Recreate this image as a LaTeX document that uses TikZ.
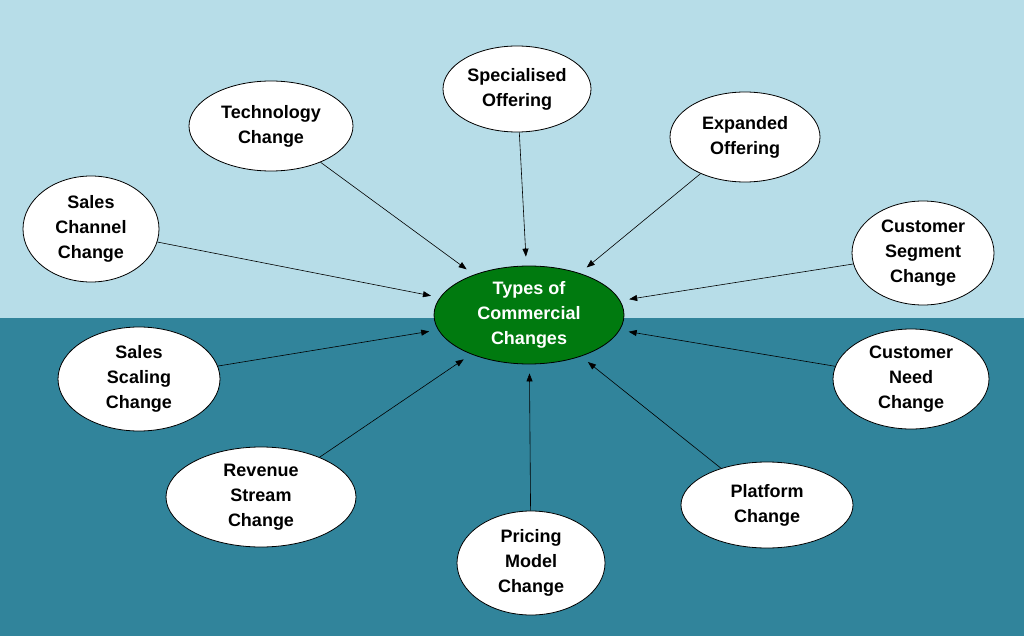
\documentclass[tikz,border=0pt]{standalone}
\usepackage{fontspec}
\setmainfont{Liberation Sans}
\usetikzlibrary{shapes.geometric,arrows.meta}

\definecolor{skyblue}{HTML}{B7DDE8}
\definecolor{seablue}{HTML}{31849B}
\definecolor{hubgreen}{HTML}{007A0F}

\tikzset{
	change/.style={ellipse,draw=black,thick,fill=white,inner sep=0pt,align=center,
		font=\bfseries\fontsize{18}{25}\selectfont},
	hub/.style={change,fill=hubgreen,text=white},
	link/.style={-{Triangle[length=8pt,width=6pt]},semithick,shorten >=9pt}
}

\begin{document}
\begin{tikzpicture}[x=1pt,y=-1pt]
	
	\fill [skyblue] (0,0) rectangle (1024,318);
	\fill [seablue] (0,318) rectangle (1024,636);
	\useasboundingbox (0,0) rectangle (1024,636);
	
	%%%%%%%%%%%%%%%%%%%%%%%%%%%%%%%%%%%%%%%%%%%%%%%%%%%%%%
	
	\node [hub,minimum width=190pt,minimum height=98pt] (types) at (529,315) {Types of\\Commercial\\Changes};
	
	\node [change,minimum width=148pt,minimum height=86pt] (specialised) at (517,89) {Specialised\\Offering};
	\node [change,minimum width=164pt,minimum height=90pt] (technology) at (271,126) {Technology\\Change};
	\node [change,minimum width=150pt,minimum height=90pt] (expanded) at (745,137) {Expanded\\Offering};
	\node [change,minimum width=136pt,minimum height=106pt] (channel) at (91,229) {Sales\\Channel\\Change};
	\node [change,minimum width=142pt,minimum height=104pt] (segment) at (923,253) {Customer\\Segment\\Change};
	\node [change,minimum width=162pt,minimum height=104pt] (scaling) at (139,379) {Sales\\Scaling\\Change};
	\node [change,minimum width=156pt,minimum height=100pt] (need) at (911,379) {Customer\\Need\\Change};
	\node [change,minimum width=190pt,minimum height=100pt] (revenue) at (261,497) {Revenue\\Stream\\Change};
	\node [change,minimum width=172pt,minimum height=86pt] (platform) at (767,505) {Platform\\Change};
	\node [change,minimum width=148pt,minimum height=104pt] (pricing) at (531,563) {Pricing\\Model\\Change};
	
	%%%%%%%%%%%%%%%%%%%%%%%%%%%%%%%%%%%%%%%%%%%%%%%%%%%%%%
	
	\foreach \outer in {specialised,technology,expanded,channel,segment,scaling,need,revenue,platform,pricing}
		\draw [link] (\outer) -- (types);
	
\end{tikzpicture}
\end{document}
